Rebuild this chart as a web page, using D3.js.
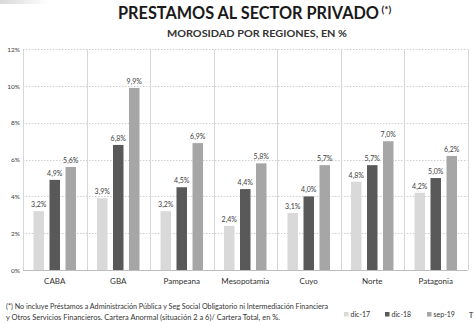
<!DOCTYPE html>
<html><head><meta charset="utf-8">
<script src="https://cdn.jsdelivr.net/npm/d3@7"></script>
<style>
html,body{margin:0;padding:0;background:#fff;}
svg{display:block;font-family:Lato,"Open Sans",sans-serif;}
</style></head>
<body><svg id="c" width="474" height="323"></svg>
<script>
const categories = ["CABA","GBA","Pampeana","Mesopotamia","Cuyo","Norte","Patagonia"];
const seriesNames = ["dic-17","dic-18","sep-19"];
const dic17 = [3.2,3.9,3.2,2.4,3.1,4.8,4.2];
const dic18 = [4.9,6.8,4.5,4.4,4.0,5.7,5.0];
const sep19 = [5.6,9.9,6.9,5.8,5.7,7.0,6.2];
const yTicks = [0,2,4,6,8,10,12];
const colors = ["#d9d9d9","#595959","#a6a6a6"];

const seriesVals = [dic17, dic18, sep19];
const svg = d3.select("#c");

// faint top-left artifact
const defs = svg.append("defs");
const g1 = defs.append("linearGradient").attr("id","tl");
g1.append("stop").attr("offset","0").attr("stop-color","#d8d8d8");
g1.append("stop").attr("offset","1").attr("stop-color","#ffffff");
svg.append("rect").attr("x",0).attr("y",0).attr("width",48).attr("height",4).attr("fill","url(#tl)");

const x = d3.scaleBand().domain(categories).range([23,467.5]).paddingInner(0).paddingOuter(0);
const xs = d3.scaleBand().domain(seriesNames).range([10.5, 53]).paddingInner(0.344).paddingOuter(0);
const y = d3.scaleLinear().domain([0,12]).range([270,49.3]);

// horizontal dotted grid
svg.append("g").selectAll("line").data(yTicks.filter(d=>d>0)).join("line")
  .attr("x1",23).attr("x2",467.5)
  .attr("y1",d=>Math.round(y(d))+0.5).attr("y2",d=>Math.round(y(d))+0.5)
  .attr("stroke","#cfcfcf").attr("stroke-width",1).attr("stroke-dasharray","1.5,1.5");

// vertical separators
const bounds = categories.map(c=>x(c)).concat([x(categories[categories.length-1])+x.bandwidth()]);
svg.append("g").selectAll("line").data(bounds).join("line")
  .attr("x1",d=>Math.round(d)+0.5).attr("x2",d=>Math.round(d)+0.5)
  .attr("y1",y(12)).attr("y2",y(0))
  .attr("stroke","#d6d6d6").attr("stroke-width",1);

// y axis labels
const yAxis = d3.axisLeft(y).tickValues(yTicks).tickFormat(d=>d+"%").tickSize(0).tickPadding(3);
const ya = svg.append("g").attr("transform","translate(23,0)").call(yAxis);
ya.select(".domain").remove();
ya.selectAll("text").attr("font-size",6.5).attr("fill","#404040").attr("font-family","Lato,sans-serif");

// bars
seriesVals.forEach((vals,si)=>{
  const g = svg.append("g");
  g.selectAll("rect").data(vals).join("rect")
    .attr("x",(d,i)=>x(categories[i])+xs(seriesNames[si]))
    .attr("width",xs.bandwidth())
    .attr("y",d=>y(d)).attr("height",d=>y(0)-y(d))
    .attr("fill",colors[si]);
  g.selectAll("text").data(vals).join("text")
    .attr("x",(d,i)=>x(categories[i])+xs(seriesNames[si])+xs.bandwidth()/2)
    .attr("y",d=>y(d)-4)
    .attr("text-anchor","middle").attr("font-size",7).attr("fill","#404040")
    .text(d=>d.toFixed(1).replace(".",",")+"%");
});

// baseline
svg.append("line").attr("x1",23).attr("x2",467.5).attr("y1",270.5).attr("y2",270.5)
  .attr("stroke","#bdbdbd").attr("stroke-width",1);

// x axis labels
const xAxis = d3.axisBottom(x).tickSize(0).tickPadding(8);
const xa = svg.append("g").attr("transform","translate(0,270)").call(xAxis);
xa.select(".domain").remove();
xa.selectAll("text").attr("font-size",8).attr("fill","#303030").attr("font-family","Lato,sans-serif");

// title
const t = svg.append("text").attr("x",118).attr("y",19.3)
  .attr("font-size",16.5).attr("font-weight","bold").attr("fill","#1a1a1a");
t.append("tspan").text("PRESTAMOS AL SECTOR PRIVADO").attr("textLength",261).attr("lengthAdjust","spacingAndGlyphs");
t.append("tspan").text("(*)").attr("font-size",10).attr("dy",-6).attr("dx",2.5);

svg.append("text").attr("x",257).attr("y",36.5).attr("text-anchor","middle")
  .attr("font-size",9).attr("font-weight","bold").attr("fill","#333")
  .attr("textLength",180).attr("lengthAdjust","spacingAndGlyphs")
  .text("MOROSIDAD POR REGIONES, EN %");

// footnote
svg.append("text").attr("x",6).attr("y",309).attr("font-size",7).attr("fill","#333")
  .attr("textLength",322).attr("lengthAdjust","spacingAndGlyphs")
  .text("(*) No incluye Préstamos a Administración Pública y Seg Social Obligatorio ni Intermediación Financiera");
svg.append("text").attr("x",6).attr("y",319.5).attr("font-size",7).attr("fill","#333")
  .attr("textLength",274).attr("lengthAdjust","spacingAndGlyphs")
  .text("y Otros Servicios Financieros.  Cartera Anormal (situación 2 a 6)/ Cartera Total, en %.");

// legend
const legX = [344, 385, 427];
const lg = svg.append("g");
seriesNames.forEach((s,i)=>{
  lg.append("rect").attr("x",legX[i]).attr("y",312).attr("width",4.5).attr("height",4.5).attr("fill",colors[i]);
  lg.append("text").attr("x",legX[i]+6.5).attr("y",317).attr("font-size",7).attr("fill","#333").text(s);
});

// bottom-right artifact
svg.append("text").attr("x",469).attr("y",318).attr("font-size",7).attr("font-weight","bold").attr("fill","#555").text("T");
</script></body></html>
